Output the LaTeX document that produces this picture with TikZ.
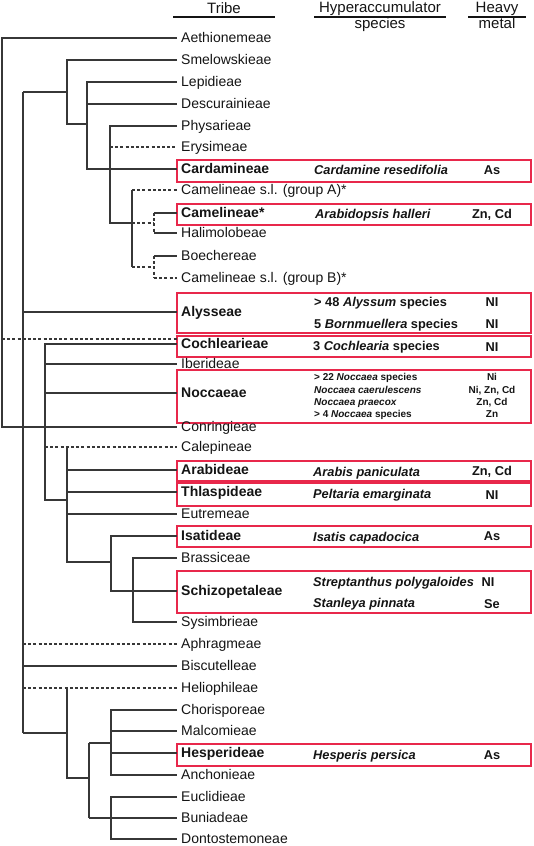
\documentclass[tikz,border=0pt]{standalone}
\usepackage{fontspec}
\setmainfont{Liberation Sans}
\definecolor{treec}{RGB}{55,55,55}
\definecolor{txt}{RGB}{20,20,20}
\definecolor{boxc}{RGB}{232,40,75}
\begin{document}
\begin{tikzpicture}[x=1pt,y=-1pt,
  tree/.style={line width=1.25pt, draw=treec},
  dsh/.style={tree, dash pattern=on 3pt off 2.2pt},
  hline/.style={line width=1.3pt, draw=txt},
  leaf/.style={anchor=west, inner xsep=4pt, inner ysep=0pt, text height=10pt, text depth=1pt, text=txt, font=\fontsize{14}{16}\selectfont},
  bleaf/.style={leaf, font=\fontsize{14}{16}\selectfont\bfseries},
  spc/.style={anchor=west, inner sep=0pt, text height=10pt, text depth=1pt, text=txt, font=\fontsize{12.8}{15}\selectfont\bfseries\itshape},
  spu/.style={spc, font=\fontsize{12.8}{15}\selectfont\bfseries},
  met/.style={anchor=center, inner sep=0pt, text height=10pt, text depth=1pt, text=txt, font=\fontsize{12.8}{15}\selectfont\bfseries},
  sml/.style={anchor=west, inner sep=0pt, text height=8pt, text depth=1pt, text=txt, font=\fontsize{10}{12}\selectfont\bfseries},
  smet/.style={anchor=center, inner sep=0pt, text height=8pt, text depth=1pt, text=txt, font=\fontsize{10}{12}\selectfont\bfseries},
  hdr/.style={inner sep=0pt, text=txt, font=\fontsize{15}{17}\selectfont},
  rbox/.style={draw=boxc, line width=1.8pt, minimum width=354pt, inner sep=0pt}
]
\useasboundingbox (0,0) rectangle (533,846);

% headers
\node[hdr, anchor=base] (hT) at (224,13) {Tribe};
\node[hdr, anchor=base] (hH) at (380,12.5) {Hyperaccumulator};
\node[hdr, anchor=base] (hS) at (380,28.5) {species};
\node[hdr, anchor=base] (hHe) at (497,12.5) {Heavy};
\node[hdr, anchor=base] (hM) at (497,28.5) {metal};
\coordinate (uT0) at (173,17); \coordinate (uT1) at (275,17);
\coordinate (uH0) at (314,17); \coordinate (uH1) at (446,17);
\coordinate (uM0) at (468,17); \coordinate (uM1) at (526,17);
\draw[hline] (uT0) -- (uT1);
\draw[hline] (uH0) -- (uH1);
\draw[hline] (uM0) -- (uM1);

% red boxes
\node[rbox, minimum height=22pt] (BCard) at (354,171) {};
\node[rbox, minimum height=21pt] (BCame) at (354,214.5) {};
\node[rbox, minimum height=40pt] (BAlys) at (354,313) {};
\node[rbox, minimum height=21pt] (BCoch) at (354,346.5) {};
\node[rbox, minimum height=53pt] (BNocc) at (354,396.5) {};
\node[rbox, minimum height=20pt] (BArab) at (354,471) {};
\node[rbox, minimum height=23pt] (BThla) at (354,494.5) {};
\node[rbox, minimum height=21pt] (BIsat) at (354,536.5) {};
\node[rbox, minimum height=42pt] (BSchi) at (354,592) {};
\node[rbox, minimum height=22pt] (BHesp) at (354,755) {};

% leaves
\node[leaf] (Aeth) at (177,38) {Aethionemeae};
\node[leaf] (Smel) at (177,60) {Smelowskieae};
\node[leaf] (Lepi) at (177,82) {Lepidieae};
\node[leaf] (Desc) at (177,104) {Descurainieae};
\node[leaf] (Phys) at (177,126) {Physarieae};
\node[leaf] (Erys) at (177,147) {Erysimeae};
\node[bleaf] (Card) at (177,169) {Cardamineae};
\node[leaf] (CamA) at (177,190) {Camelineae s.l. (group A)*};
\node[bleaf] (Came) at (177,213) {Camelineae*};
\node[leaf] (Hali) at (177,233) {Halimolobeae};
\node[leaf] (Boec) at (177,256) {Boechereae};
\node[leaf] (CamB) at (177,278) {Camelineae s.l. (group B)*};
\node[bleaf] (Alys) at (177,312) {Alysseae};
\node[bleaf] (Coch) at (177,344) {Cochlearieae};
\node[leaf] (Iber) at (177,364) {Iberideae};
\node[bleaf] (Nocc) at (177,393) {Noccaeae};
\node[leaf] (Conr) at (177,427) {Conringieae};
\node[leaf] (Cale) at (177,447) {Calepineae};
\node[bleaf] (Arab) at (177,470) {Arabideae};
\node[bleaf] (Thla) at (177,492) {Thlaspideae};
\node[leaf] (Eutr) at (177,514) {Eutremeae};
\node[bleaf] (Isat) at (177,536) {Isatideae};
\node[leaf] (Bras) at (177,558) {Brassiceae};
\node[bleaf] (Schi) at (177,591) {Schizopetaleae};
\node[leaf] (Sysi) at (177,622) {Sysimbrieae};
\node[leaf] (Aphr) at (177,644) {Aphragmeae};
\node[leaf] (Bisc) at (177,666) {Biscutelleae};
\node[leaf] (Heli) at (177,688) {Heliophileae};
\node[leaf] (Chor) at (177,710) {Chorisporeae};
\node[leaf] (Malc) at (177,731) {Malcomieae};
\node[bleaf] (Hesp) at (177,753) {Hesperideae};
\node[leaf] (Anch) at (177,775) {Anchonieae};
\node[leaf] (Eucl) at (177,797) {Euclidieae};
\node[leaf] (Buni) at (177,818) {Buniadeae};
\node[leaf] (Dont) at (177,839) {Dontostemoneae};

% species and metals
\node[spc] (sCard) at (314,170) {Cardamine resedifolia};
\node[met] (mCard) at (492,170) {As};
\node[spc] (sCame) at (315,214) {Arabidopsis halleri};
\node[met] (mCame) at (492,214) {Zn, Cd};
\node[spu] (sAly1) at (314,302) {> 48 \textit{Alyssum} species};
\node[met] (mAly1) at (492,302) {NI};
\node[spu] (sAly2) at (314,323.5) {5 \textit{Bornmuellera} species};
\node[met] (mAly2) at (492,324) {NI};
\node[spu] (sCoch) at (313,346) {3 \textit{Cochlearia} species};
\node[met] (mCoch) at (492,346.5) {NI};
\node[sml] (sNo1) at (314,377) {> 22 \textit{Noccaea} species};
\node[smet] (mNo1) at (492,377) {Ni};
\node[sml] (sNo2) at (314,389.5) {\textit{Noccaea caerulescens}};
\node[smet] (mNo2) at (492,389.5) {Ni, Zn, Cd};
\node[sml] (sNo3) at (314,401.5) {\textit{Noccaea praecox}};
\node[smet] (mNo3) at (492,401.5) {Zn, Cd};
\node[sml] (sNo4) at (314,413.5) {> 4 \textit{Noccaea} species};
\node[smet] (mNo4) at (492,413.5) {Zn};
\node[spc] (sArab) at (313,472) {Arabis paniculata};
\node[met] (mArab) at (492,471) {Zn, Cd};
\node[spc] (sThla) at (313,494) {Peltaria emarginata};
\node[met] (mThla) at (492,494.5) {NI};
\node[spc] (sIsat) at (313,537) {Isatis capadocica};
\node[met] (mIsat) at (492,536) {As};
\node[spc] (sSch1) at (313,582) {Streptanthus polygaloides};
\node[met] (mSch1) at (488,582) {NI};
\node[spc] (sSch2) at (313,603) {Stanleya pinnata};
\node[met] (mSch2) at (492,603.5) {Se};
\node[spc] (sHesp) at (313,755) {Hesperis persica};
\node[met] (mHesp) at (492,755) {As};

% tree: root
\coordinate (r0) at (2,38); \coordinate (r1) at (2,427); \coordinate (rc) at (2,339);
\draw[tree] (Aeth.west) -- (r0) -- (r1) -- (Conr.west);
\draw[dsh] (rc) -- (rc -| Coch.west);

% main lineage spine
\coordinate (a0) at (23,92); \coordinate (a1) at (23,733);
\coordinate (b0) at (67,60); \coordinate (b1) at (67,124);
\draw[tree] (a0) -- (a1);
\draw[tree] (a0) -- (a0 -| b0);
\draw[tree] (a0 |- Alys.west) -- (Alys.west);
\draw[dsh] (a0 |- Aphr.west) -- (Aphr.west);
\draw[tree] (a0 |- Bisc.west) -- (Bisc.west);
\draw[dsh] (a0 |- Heli.west) -- (Heli.west);

% lineage I
\coordinate (c0) at (87,82); \coordinate (c1) at (87,169);
\draw[tree] (Smel.west) -| (b1) -- (b1 -| c0);
\draw[tree] (Lepi.west) -| (c1) -- (Card.west);
\draw[tree] (c0 |- Desc.west) -- (Desc.west);
\coordinate (d1) at (110,223);
\coordinate (e0) at (132,190); \coordinate (e1) at (132,267);
\coordinate (f0) at (154,223); \coordinate (g0) at (154,267);
\draw[tree] (Phys.west) -| (d1) -- (d1 -| e0);
\draw[dsh] (d1 |- Erys.west) -- (Erys.west);
\draw[dsh] (e0) -- (CamA.west);
\draw[tree] (e0) -- (e1);
\draw[dsh] (d1 -| e0) -- (f0);
\draw[dsh] (f0 |- Came.west) -- (f0 |- Hali.west);
\draw[tree] (f0 |- Came.west) -- (Came.west);
\draw[tree] (f0 |- Hali.west) -- (Hali.west);
\draw[dsh] (e1) -- (g0);
\draw[dsh] (g0 |- Boec.west) -- (g0 |- CamB.west);
\draw[tree] (g0 |- Boec.west) -- (Boec.west);
\draw[dsh] (g0 |- CamB.west) -- (CamB.west);

% lineage II
\coordinate (h0) at (45,344); \coordinate (h1) at (45,500);
\coordinate (i0) at (67,447); \coordinate (i1) at (67,562);
\coordinate (j0) at (111,536); \coordinate (j1) at (111,591);
\coordinate (m1) at (133,622);
\draw[tree] (Coch.west) -| (h1) -- (h1 -| i0);
\draw[tree] (h0 |- Iber.west) -- (Iber.west);
\draw[tree] (h0 |- Nocc.west) -- (Nocc.west);
\draw[dsh] (h0 |- Cale.west) -- (Cale.west);
\draw[tree] (i0) -- (i1) -- (i1 -| j0);
\draw[tree] (i0 |- Arab.west) -- (Arab.west);
\draw[tree] (i0 |- Thla.west) -- (Thla.west);
\draw[tree] (i0 |- Eutr.west) -- (Eutr.west);
\draw[tree] (Isat.west) -| (j1) -- (Schi.west);
\draw[tree] (Bras.west) -| (m1) -- (Sysi.west);

% lineage III
\coordinate (n0) at (67,688); \coordinate (n1) at (67,778);
\coordinate (p0) at (89,743); \coordinate (p1) at (89,818);
\coordinate (q1) at (111,775); \coordinate (s1) at (111,839);
\draw[tree] (a1) -- (a1 -| n0);
\draw[tree] (n0) -- (n1) -- (n1 -| p0);
\draw[tree] (p0) -- (p1);
\draw[tree] (p0) -- (p0 -| q1);
\draw[tree] (Chor.west) -| (q1) -- (Anch.west);
\draw[tree] (q1 |- Malc.west) -- (Malc.west);
\draw[tree] (q1 |- Hesp.west) -- (Hesp.west);
\draw[tree] (p1) -- (p1 -| s1);
\draw[tree] (Eucl.west) -| (s1) -- (Dont.west);
\draw[tree] (s1 |- Buni.west) -- (Buni.west);
\end{tikzpicture}
\end{document}
